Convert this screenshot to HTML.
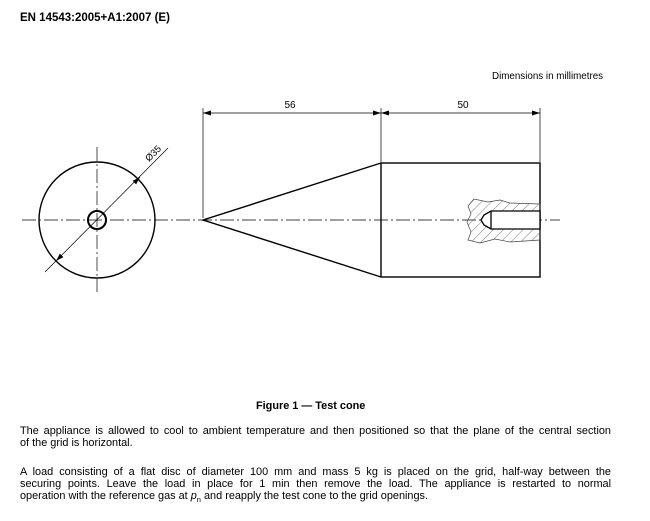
<!DOCTYPE html>
<html><head><meta charset="utf-8"><style>
body{margin:0;width:650px;height:521px;background:#fff;position:relative;overflow:hidden;font-family:"Liberation Sans",Arial,sans-serif;color:#000}
.t{position:absolute;white-space:nowrap}
.j{position:absolute;left:20px;width:591px;font-size:10.9px;text-align:justify;text-align-last:justify;white-space:nowrap}
.l{position:absolute;left:20px;font-size:10.9px;white-space:nowrap}
svg{position:absolute;left:0;top:0}
</style></head><body>
<div class="t" style="left:20px;top:12px;font-size:11.5px;font-weight:bold">EN 14543:2005+A1:2007 (E)</div>
<div class="t" style="left:492px;top:71px;font-size:9.8px">Dimensions in millimetres</div>
<svg width="650" height="400" viewBox="0 0 650 400">
<defs>
<pattern id="h" width="7" height="7" patternUnits="userSpaceOnUse" patternTransform="rotate(45)"><line x1="0" y1="0" x2="0" y2="7" stroke="#555" stroke-width="0.8"/></pattern>
<marker id="a" markerWidth="8" markerHeight="6" refX="8" refY="3" orient="auto" markerUnits="userSpaceOnUse"><path d="M0,0.5 L8,3 L0,5.5 Z" fill="#000"/></marker>
</defs>
<g fill="none" stroke="#000">
<circle cx="97" cy="220" r="58" stroke-width="1.4"/>
<circle cx="97" cy="220" r="9" stroke-width="2"/>
<line x1="97" y1="147" x2="97" y2="292" stroke-width="0.7" stroke-dasharray="14,3,2,3"/>
<line x1="22" y1="220" x2="560" y2="220" stroke-width="0.7" stroke-dasharray="14,3,2,3"/>
<line x1="45" y1="272" x2="168" y2="148" stroke-width="0.7"/>
<line x1="138" y1="179" x2="140" y2="177" stroke-width="0.7" marker-end="url(#a)"/>
<line x1="58" y1="259" x2="56" y2="261" stroke-width="0.7" marker-end="url(#a)"/>
<path d="M381,163 L203,220 L381,277" stroke-width="1.4"/>
<rect x="381" y="163" width="159" height="114" stroke-width="1.4"/>
<path d="M540,204 L510,203 L500,200 L488,202 L474,199 L468,206 L471,214 L467,222 L471,232 L468,240 L480,243 L495,239 L510,242 L540,240 Z" fill="url(#h)" stroke="#444" stroke-width="0.7"/>
<path d="M540,211 L491,211 L484,215 L481,220 L484,225 L491,229 L540,229 Z" fill="#fff" stroke="#000" stroke-width="1.3"/>
<line x1="491" y1="211" x2="491" y2="229" stroke-width="1.3"/>
<line x1="203" y1="108" x2="203" y2="218" stroke-width="0.7"/>
<line x1="381" y1="108" x2="381" y2="162" stroke-width="0.7"/>
<line x1="540" y1="108" x2="540" y2="162" stroke-width="0.7"/>
<line x1="292" y1="113" x2="203" y2="113" stroke-width="0.7" marker-end="url(#a)"/>
<line x1="292" y1="113" x2="381" y2="113" stroke-width="0.7" marker-end="url(#a)"/>
<line x1="460" y1="113" x2="381" y2="113" stroke-width="0.7" marker-end="url(#a)"/>
<line x1="460" y1="113" x2="540" y2="113" stroke-width="0.7" marker-end="url(#a)"/>
</g>
<text x="290" y="108" font-family="Liberation Sans, sans-serif" font-size="10" text-anchor="middle">56</text>
<text x="463" y="108" font-family="Liberation Sans, sans-serif" font-size="10" text-anchor="middle">50</text>
<text x="0" y="0" font-family="Liberation Sans, sans-serif" font-size="9.5" transform="translate(149,162) rotate(-45)">Ø35</text>
</svg>
<div class="t" style="left:256px;top:400px;font-size:10.9px;font-weight:bold">Figure 1 — Test cone</div>
<div class="j" style="top:425px">The appliance is allowed to cool to ambient temperature and then positioned so that the plane of the central section</div>
<div class="l" style="top:437px">of the grid is horizontal.</div>
<div class="j" style="top:466px">A load consisting of a flat disc of diameter 100 mm and mass 5 kg is placed on the grid, half-way between the</div>
<div class="j" style="top:478px">securing points. Leave the load in place for 1 min then remove the load. The appliance is restarted to normal</div>
<div class="l" style="top:490px">operation with the reference gas at <i>p</i><sub style="font-size:7.5px">n</sub> and reapply the test cone to the grid openings.</div>
</body></html>
